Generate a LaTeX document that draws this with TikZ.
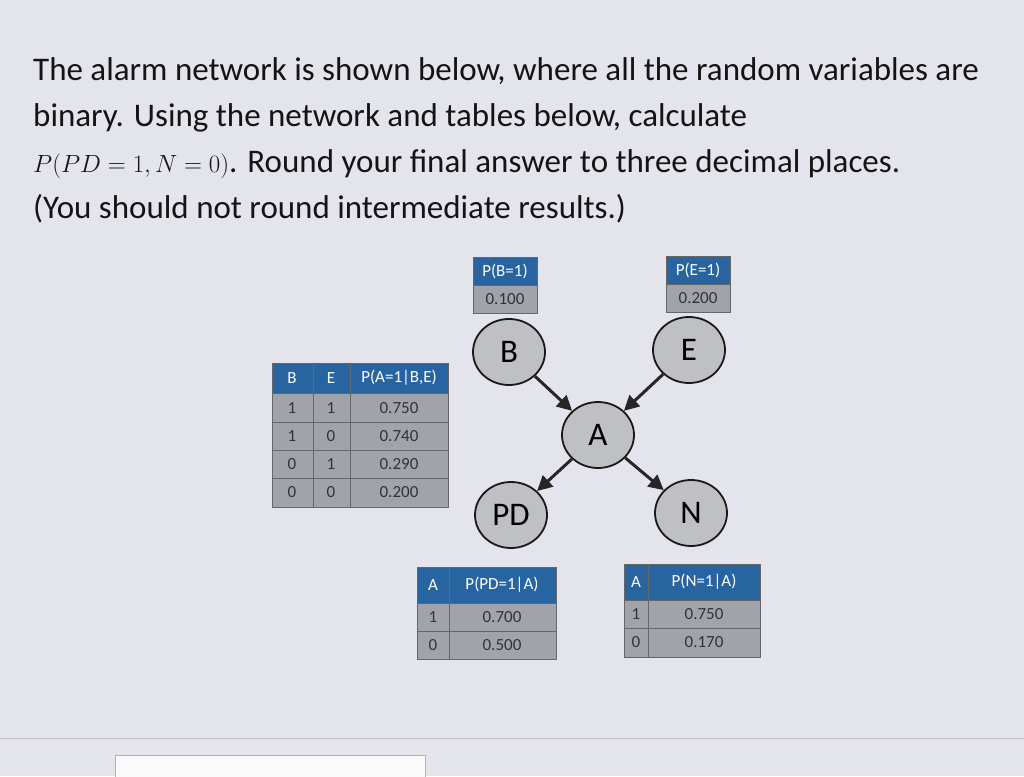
\documentclass[tikz,border=0pt]{standalone}
\usepackage{fontspec}
\setmainfont{Carlito}
\usetikzlibrary{arrows.meta,shapes.geometric}
\definecolor{bg}{RGB}{228,229,236}
\definecolor{hdr}{RGB}{40,100,160}
\definecolor{cellc}{RGB}{160,164,170}
\definecolor{nodec}{RGB}{190,192,196}
\begin{document}
\begin{tikzpicture}[x=1pt,y=-1pt,
  line/.style={font=\fontsize{33}{38}\selectfont,anchor=base west,inner sep=0pt,text=black!92},
  bn/.style={ellipse,draw=black!90,line width=1.8pt,fill=nodec,minimum width=72pt,minimum height=66pt,inner sep=0pt,font=\fontsize{33}{36}\selectfont},
  arr/.style={line width=3pt,draw=black!85,-{Triangle[length=15pt,width=15pt]}},
  hd/.style={fill=hdr,draw=black!60,line width=0.6pt},
  cl/.style={fill=cellc,draw=black!60,line width=0.6pt},
  ht/.style={font=\fontsize{17}{19}\selectfont,text=white},
  ct/.style={font=\fontsize{17}{19}\selectfont,text=black!80}]
\useasboundingbox (0,0) rectangle (1024,776);
\fill[bg] (0,0) rectangle (1024,776);
\node[line] (l1) at (33,80) {The alarm network is shown below, where all the random variables are};
\node[line] (l2) at (33,126) {binary. Using the network and tables below, calculate};
\node[line] (l3) at (33,172) {\fontsize{36}{40}\selectfont$P(PD=1,N=0)$\fontsize{33}{38}\selectfont. Round your final answer to three decimal places.};
\node[line] (l4) at (33,218) {(You should not round intermediate results.)};
% P(B=1)
\draw[hd] (473,257) rectangle (537,285); \draw[cl] (473,285) rectangle (537,313);
\node[ht] (tb1) at (505,271) {P(B=1)}; \node[ct] (tb2) at (505,299) {0.100};
% P(E=1)
\draw[hd] (666,256) rectangle (730,284); \draw[cl] (666,284) rectangle (730,312);
\node[ht] (te1) at (698,270) {P(E=1)}; \node[ct] (te2) at (698,298) {0.200};
% A table
\draw[hd] (272,363) rectangle (448,393);
\foreach \a/\b in {393/422,422/450,450/478,478/507}{\draw[cl] (272,\a) rectangle (448,\b);}
\draw[black!60,line width=0.6pt] (313,363) -- (313,507) (350,363) -- (350,507);
\node[ht] (ah1) at (292,378) {B}; \node[ht] (ah2) at (331,378) {E}; \node[ht] (ah3) at (399,378) {P(A=1|B,E)};
\node[ct] (a11) at (292,408) {1}; \node[ct] (a12) at (331,408) {1}; \node[ct] (a13) at (399,408) {0.750};
\node[ct] (a21) at (292,436) {1}; \node[ct] (a22) at (331,436) {0}; \node[ct] (a23) at (399,436) {0.740};
\node[ct] (a31) at (292,464) {0}; \node[ct] (a32) at (331,464) {1}; \node[ct] (a33) at (399,464) {0.290};
\node[ct] (a41) at (292,492) {0}; \node[ct] (a42) at (331,492) {0}; \node[ct] (a43) at (399,492) {0.200};
% PD table
\draw[hd] (417,567) rectangle (556,603);
\draw[cl] (417,603) rectangle (556,631); \draw[cl] (417,631) rectangle (556,659);
\draw[black!60,line width=0.6pt] (449,567) -- (449,659);
\node[ht] (ph1) at (433,585) {A}; \node[ht] (ph2) at (502,585) {P(PD=1|A)};
\node[ct] (p11) at (433,617) {1}; \node[ct] (p12) at (502,617) {0.700};
\node[ct] (p21) at (433,645) {0}; \node[ct] (p22) at (502,645) {0.500};
% N table
\draw[hd] (624,564) rectangle (760,600);
\draw[cl] (624,600) rectangle (760,628); \draw[cl] (624,628) rectangle (760,657);
\draw[black!60,line width=0.6pt] (648,564) -- (648,657);
\node[ht] (nh1) at (636,582) {A}; \node[ht] (nh2) at (704,582) {P(N=1|A)};
\node[ct] (n11) at (636,614) {1}; \node[ct] (n12) at (704,614) {0.750};
\node[ct] (n21) at (636,642) {0}; \node[ct] (n22) at (704,642) {0.170};
% network
\node[bn] (B) at (509,352) {B};
\node[bn] (E) at (689,350) {E};
\node[bn] (A) at (598,435) {A};
\node[bn] (PD) at (511,515) {PD};
\node[bn] (N) at (691,513) {N};
\draw[arr] (B) -- (A);
\draw[arr] (E) -- (A);
\draw[arr] (A) -- (PD);
\draw[arr] (A) -- (N);
% bottom answer box
\draw[black!25,line width=0.8pt] (0,738) -- (1024,738);
\draw[black!30,fill=white!80!bg,line width=0.8pt] (115,755) rectangle (425,790);
\end{tikzpicture}
\end{document}
